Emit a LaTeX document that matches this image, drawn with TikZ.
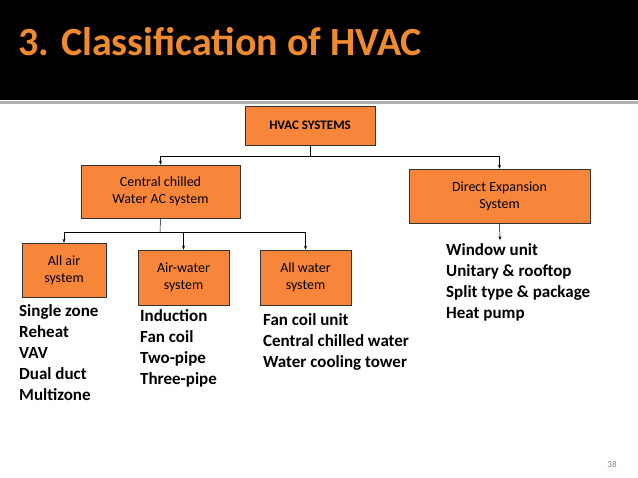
\documentclass[tikz,border=0pt]{standalone}
\usepackage{fontspec}
\usetikzlibrary{arrows.meta}
\setmainfont{Carlito}
\definecolor{org}{HTML}{F7863A}
\definecolor{ttl}{HTML}{F08A2E}
\begin{document}
\begin{tikzpicture}[x=1pt,y=-1pt,
  box/.style={draw=black!80,fill=org,line width=0.6pt,align=center,font=\fontsize{14}{17}\selectfont,inner sep=0pt},
  lst/.style={anchor=north west,align=left,font=\bfseries\fontsize{17}{21}\selectfont,inner sep=0pt},
  arr/.style={-{Stealth[length=4pt,width=3pt]},line width=0.5pt}]
\useasboundingbox (0,0) rectangle (638,478);
\fill[black] (0,0) rectangle (638,100);
\fill[gray!60] (0,101) rectangle (638,104);
\node[anchor=west,text=ttl,font=\bfseries\fontsize{40}{44}\selectfont,inner sep=0pt] (title) at (18,42) {3. Classification of HVAC};
\node[box,minimum width=130pt,minimum height=39pt,font=\bfseries\fontsize{13}{16}\selectfont] (hv) at (310,125.5) {HVAC SYSTEMS};
\node[box,minimum width=159pt,minimum height=53pt] (cc) at (160.5,191.5) {Central chilled\\Water AC system};
\node[box,minimum width=181pt,minimum height=54pt] (de) at (499.5,196) {Direct Expansion\\System};
\node[box,minimum width=84pt,minimum height=54pt] (aa) at (64,270) {All air\\system};
\node[box,minimum width=91pt,minimum height=55pt] (aw) at (183.5,277.5) {Air-water\\system};
\node[box,minimum width=91pt,minimum height=55pt] (awt) at (305.5,277.5) {All water\\system};
\coordinate (j1) at (310,156);
\coordinate (j2) at (160,232);
\draw[line width=0.5pt] (hv.south) -- (j1);
\draw[arr] (j1) -| (cc.north);
\draw[arr] (j1) -| (de.north);
\draw[line width=0.5pt] (cc.south) -- (j2);
\draw[arr] (j2) -| (aa.north);
\draw[arr] (j2) -| (aw.north);
\draw[arr] (j2) -| (awt.north);
\node[lst] (l1) at (19,304) {Single zone\\Reheat\\VAV\\Dual duct\\Multizone};
\node[lst] (l2) at (140,309) {Induction\\Fan coil\\Two-pipe\\Three-pipe};
\node[lst] (l3) at (263,313) {Fan coil unit\\Central chilled water\\Water cooling tower};
\node[lst] (l4) at (446,243) {Window unit\\Unitary \& rooftop\\Split type \& package\\Heat pump};
\coordinate (de2) at (500,240);
\draw[arr] (de.south) -- (de2);
\node[text=gray,font=\fontsize{9}{10}\selectfont,inner sep=0pt] (pg) at (612,464) {38};
\end{tikzpicture}
\end{document}
